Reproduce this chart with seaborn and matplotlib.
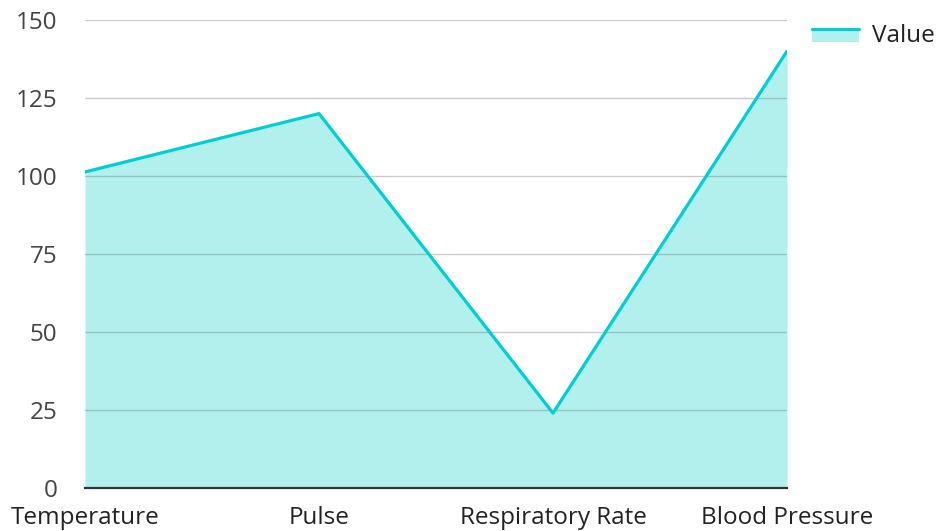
import matplotlib
matplotlib.use("Agg")
import matplotlib.pyplot as plt
import seaborn as sns
import pandas as pd
from matplotlib.patches import Patch, Rectangle
from matplotlib.lines import Line2D
from matplotlib.legend_handler import HandlerBase

categories = ["Temperature", "Pulse", "Respiratory Rate", "Blood Pressure"]
values = [101.3, 120, 24, 140]
yticks = [0, 25, 50, 75, 100, 125, 150]

df = pd.DataFrame({"metric": categories, "value": values})
df["pos"] = range(len(categories))

line_color = "#00CED1"
fill_color = "#B2F0EE"

sns.set_style("white")
plt.rcParams["font.family"] = ["Open Sans", "DejaVu Sans"]


class AreaHandler(HandlerBase):
    # line on top, filled strip under it, like the reference legend key
    def create_artists(self, legend, orig_handle, xdescent, ydescent, width, height, fontsize, trans):
        top = height * 0.75
        rect = Rectangle((-xdescent, -ydescent), width, top, facecolor=fill_color, edgecolor="none", transform=trans)
        ln = Line2D([-xdescent, -xdescent + width], [top - ydescent, top - ydescent],
                    color=line_color, linewidth=2.3, transform=trans)
        return [rect, ln]


fig = plt.figure(figsize=(9.36, 5.31), dpi=100)
ax = fig.add_axes([85 / 936, 1 - 488 / 531, (787 - 85) / 936, (488 - 20) / 531])

ax.fill_between(df["pos"], df["value"], 0, color=fill_color, linewidth=0, zorder=1)
for y in yticks[1:]:
    ax.axhline(y, color="#555555", alpha=0.3, linewidth=1, zorder=2)
sns.lineplot(data=df, x="pos", y="value", color=line_color, linewidth=2.3, ax=ax, zorder=3)

ax.set_xlim(0, 3)
ax.set_ylim(0, 150)
ax.set_xticks(df["pos"])
ax.set_xticklabels(categories)
ax.set_yticks(yticks)
ax.set_xlabel("")
ax.set_ylabel("")
ax.tick_params(axis="y", length=0, pad=20, labelsize=17.5, labelcolor="#444444")
ax.tick_params(axis="x", length=0, pad=13, labelsize=17.5, labelcolor="#222222")

for s in ["top", "right", "left"]:
    ax.spines[s].set_visible(False)
ax.spines["bottom"].set_color("#333333")
ax.spines["bottom"].set_linewidth(1.6)
ax.spines["bottom"].set_zorder(4)

key = Patch(facecolor=fill_color)
fig.legend([key], ["Value"], loc="upper left", bbox_to_anchor=(812 / 936, 1 - 24 / 531),
           frameon=False, fontsize=17.5, handlelength=1.95, handletextpad=0.5,
           borderpad=0, borderaxespad=0, labelcolor="#222222",
           handler_map={Patch: AreaHandler()})

fig.savefig("out.png", dpi=100)
